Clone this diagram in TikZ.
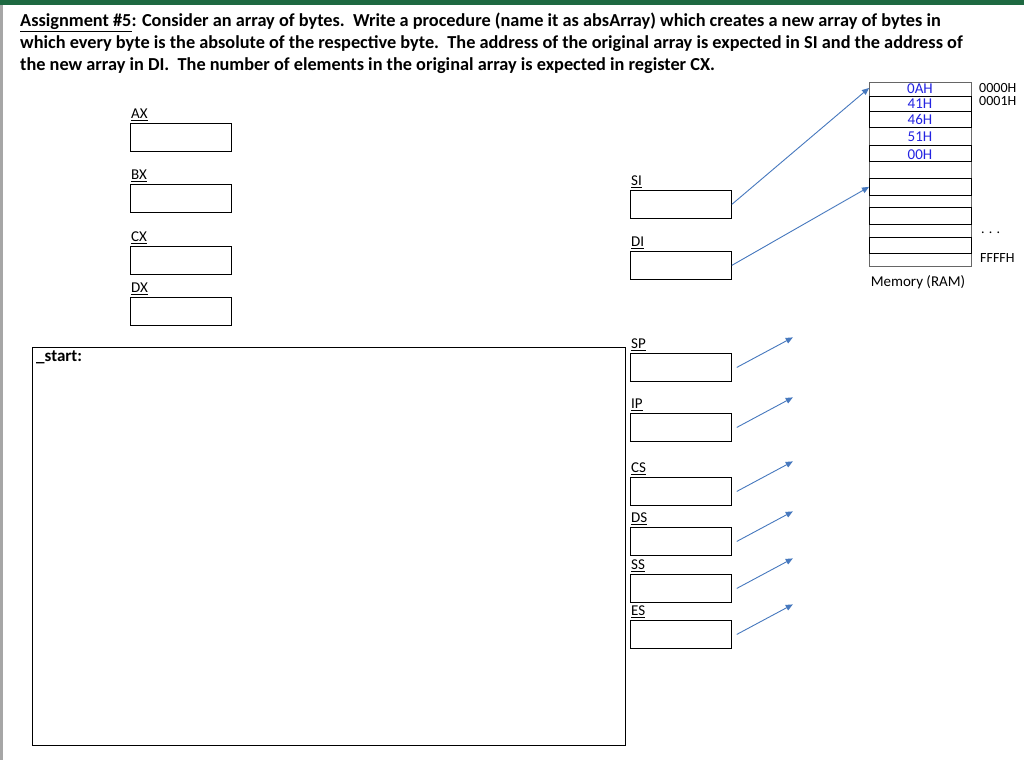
\documentclass[tikz,border=0pt]{standalone}
\usepackage{fontspec}
\setmainfont{Carlito}
\usetikzlibrary{arrows.meta}
\definecolor{hdr}{RGB}{30,105,65}
\definecolor{arr}{RGB}{70,120,190}
\definecolor{memtxt}{RGB}{35,35,225}
\begin{document}
\begin{tikzpicture}[x=1pt,y=-1pt,
  reg/.style={draw,line width=0.8pt,minimum width=101pt,minimum height=28pt,inner sep=0,anchor=north west},
  lab/.style={anchor=south west,inner sep=0,font=\fontsize{15}{15}\selectfont},
  cell/.style={draw,line width=0.8pt,minimum width=102pt,inner sep=0,anchor=north west},
  mt/.style={inner sep=0,text=memtxt,font=\fontsize{15}{15}\selectfont},
  addr/.style={anchor=west,inner sep=0,font=\fontsize{14}{14}\selectfont},
  ptr/.style={arr,line width=0.9pt,-{Triangle[length=7pt,width=6pt]}}]
\useasboundingbox (0,0) rectangle (1024,760);
\fill[white] (0,0) rectangle (1024,760);
\fill[hdr] (0,0) rectangle (1024,5);
\fill[gray!70] (0,5) rectangle (3,760);
\node[anchor=north west,inner sep=0,align=left,font=\bfseries\fontsize{18.3}{22}\selectfont] (title) at (20,13)
 {\underline{Assignment \#5}: Consider an array of bytes.\ \ Write a procedure (name it as absArray) which creates a new array of bytes in\\
 which every byte is the absolute of the respective byte.\ \ The address of the original array is expected in SI and the address of\\
 the new array in DI.\ \ The number of elements in the original array is expected in register CX.};
% general registers
\foreach \n/\ly/\by in {AX/121/123,BX/182/184,CX/244/246,DX/295/297}{
  \node[lab] (l\n) at (131,\ly) {\underline{\n}};
  \node[reg] (\n) at (130,\by) {};
}
\node[draw,line width=0.8pt,anchor=north west,minimum width=593pt,minimum height=398pt,inner sep=0] (code) at (32,347) {};
\node[anchor=north west,inner sep=0,font=\bfseries\fontsize{17}{17}\selectfont] (startl) at (36,351) {\_start:};
% pointer regs
\foreach \n/\ly/\by in {SI/188/190,DI/249/251,SP/351/353,IP/411/413,CS/475/477,DS/525/527,SS/572/574,ES/618/620}{
  \node[lab] (l\n) at (631,\ly) {\underline{\n}};
  \node[reg] (\n) at (630,\by) {};
}
\foreach \n in {SP,IP,CS,DS,SS,ES}{
  \coordinate (e\n) at ([shift={(61,-30)}]\n.east);
  \draw[ptr] ([xshift=5pt]\n.east) -- (e\n);
}
% memory
\draw[line width=0.8pt,gray!80!black] (869,82) rectangle (971,266);
\node[cell,minimum height=15pt] (m1) at (869,96) {};
\node[cell,minimum height=16pt] (m2) at (869,111) {};
\node[cell,minimum height=16pt] (m4) at (869,145) {};
\node[cell,minimum height=17pt] (m6) at (869,178) {};
\node[cell,minimum height=17pt] (m8) at (869,207) {};
\node[cell,minimum height=16pt] (m10) at (869,237) {};
\coordinate (m0) at (869,88);
\node[mt] (t0) at (920,89) {0AH};
\node[mt] (t1) at (920,104) {41H};
\node[mt] (t2) at (920,119) {46H};
\node[mt] (t3) at (920,137) {51H};
\node[mt] (t4) at (920,155) {00H};
\node[addr] (a0) at (979,88) {0000H};
\node[addr] (a1) at (979,101) {0001H};
\node[addr] (adots) at (981,233) {. . .};
\node[addr] (aF) at (980,258) {FFFFH};
\node[inner sep=0,font=\fontsize{15}{15}\selectfont] (memlab) at (918,282) {Memory (RAM)};
\draw[ptr] (SI.east) -- (m0);
\draw[ptr] (DI.east) -- (m6.west);
\end{tikzpicture}
\end{document}
